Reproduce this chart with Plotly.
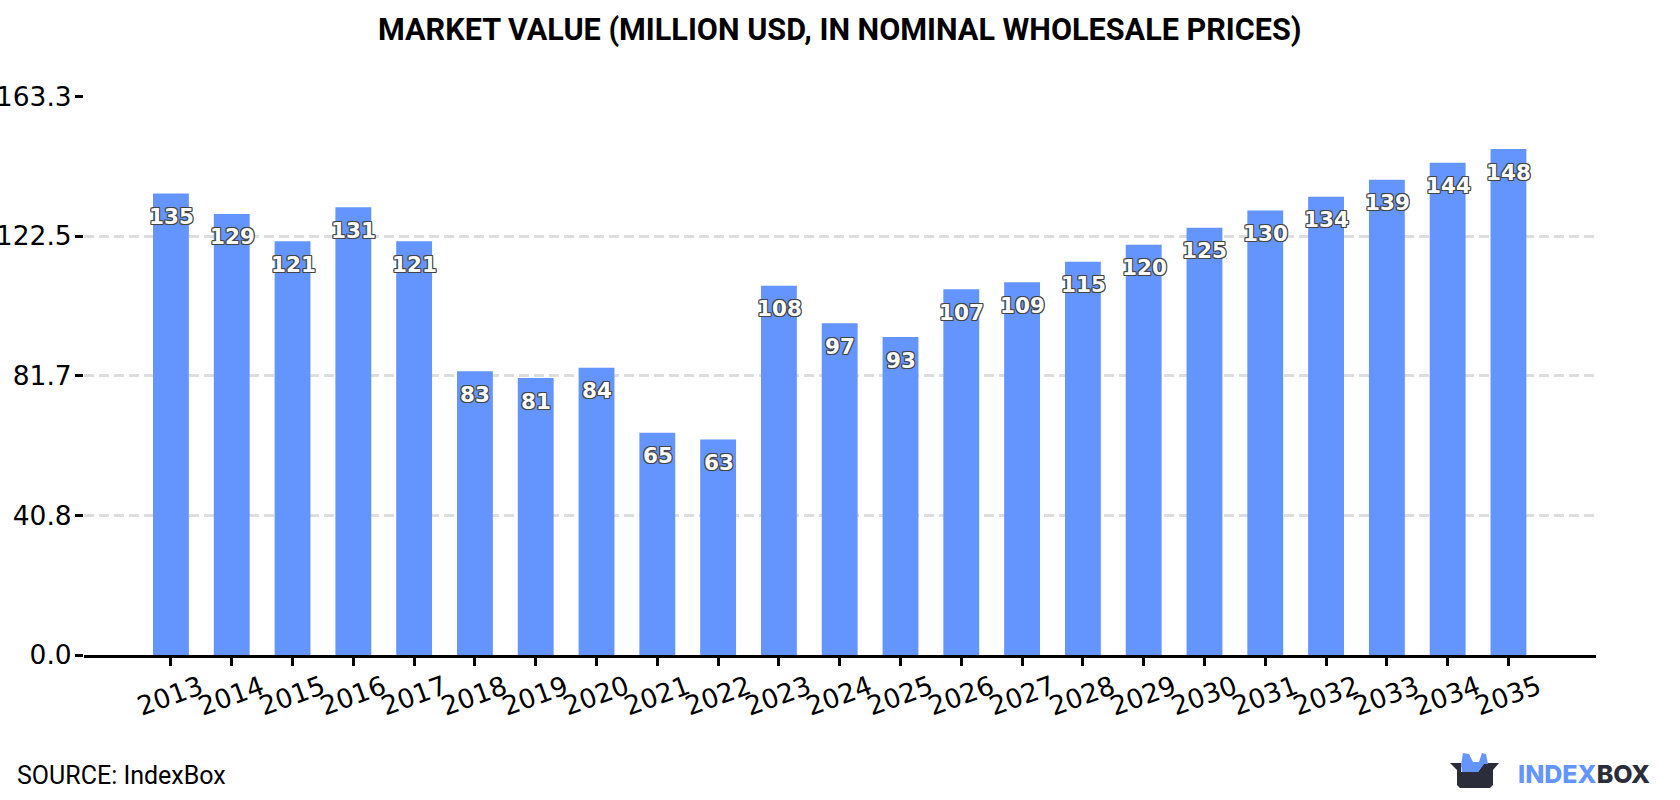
import plotly.graph_objects as go

WIDTH, HEIGHT = 1680, 800

years = list(range(2013, 2036))
values = [135, 129, 121, 131, 121, 83, 81, 84, 65, 63, 108, 97, 93, 107, 109, 115,
          120, 125, 130, 134, 139, 144, 148]
y_ticks = [0.0, 40.8, 81.7, 122.5, 163.3]
y_tick_labels = ["0.0", "40.8", "81.7", "122.5", "163.3"]

TITLE = "MARKET VALUE (MILLION USD, IN NOMINAL WHOLESALE PRICES)"
SOURCE = "SOURCE: IndexBox"
BAR_BLUE = "#6495ff"
LOGO_DARK = "#2b2d3a"
OUTLINE = ",".join(
    f"{dx}px {dy}px 0.4px #444" for dx, dy in
    [(-1, -1), (1, -1), (-1, 1), (1, 1), (0, 1), (0, -1), (1, 0), (-1, 0)]
)


def px(x):
    return x / WIDTH


def py(y):
    return 1 - y / HEIGHT


def logo_path(points):
    coords = [f"{px(x):.5f},{py(y):.5f}" for x, y in points]
    return "M" + " L".join(coords) + " Z"


fig = go.Figure(
    go.Bar(x=years, y=values, width=0.59, marker_color=BAR_BLUE, marker_line_width=0,
           hoverinfo="x+y")
)

annotations = []
for year, value in zip(years, values):
    annotations.append(dict(
        x=year, y=value, text=str(value), showarrow=False, xshift=0.5, yshift=-23,
        font=dict(family="DejaVu Sans", size=21.5, color="white", weight="bold", shadow=OUTLINE),
    ))
    annotations.append(dict(
        x=year, y=0, text=str(year), showarrow=False, textangle=-20, yshift=-40, xshift=-1,
        font=dict(family="DejaVu Sans", size=26.5, color="black"),
    ))

annotations += [
    dict(xref="paper", yref="paper", x=px(840), y=py(30), yanchor="middle", text=TITLE,
         showarrow=False, font=dict(family="Roboto", size=30.6, color="black", weight="bold")),
    dict(xref="paper", yref="paper", x=px(15), y=py(775), xanchor="left", yanchor="middle",
         text=SOURCE, showarrow=False, font=dict(family="Roboto", size=25, color="black")),
    dict(xref="paper", yref="paper", x=px(1516), y=py(774), xanchor="left", yanchor="middle",
         showarrow=False,
         text=f'<span style="color:{BAR_BLUE}">INDEX</span><span style="color:{LOGO_DARK}">BOX</span>',
         font=dict(family="Inter", size=25, weight=800)),
]

logo_crown = [(1461, 765), (1463, 753), (1469, 754), (1473, 762), (1479, 762), (1482, 753),
              (1486, 754), (1488, 764), (1484, 764), (1478, 772), (1462, 772)]
logo_box = [(1450, 763), (1461, 763), (1461, 772), (1478, 772), (1484, 763), (1499, 763),
            (1493, 770), (1493, 785), (1490, 788), (1460, 788), (1457, 785), (1457, 770)]

shapes = [
    dict(type="path", xref="paper", yref="paper", path=logo_path(logo_box),
         fillcolor=LOGO_DARK, line_width=0),
    dict(type="path", xref="paper", yref="paper", path=logo_path(logo_crown),
         fillcolor=BAR_BLUE, line_width=0),
]

fig.update_layout(
    width=WIDTH, height=HEIGHT,
    margin=dict(l=0, r=0, t=0, b=0, autoexpand=False),
    autosize=False,
    paper_bgcolor="white", plot_bgcolor="white",
    showlegend=False,
    xaxis=dict(
        domain=[px(84), px(1596)],
        range=[2011.57, 2036.44],
        tickvals=years, ticktext=[""] * len(years),
        ticks="outside", ticklen=8, tickwidth=2.5, tickcolor="black",
        showline=True, linecolor="black", linewidth=2.5,
        showgrid=False, zeroline=False,
    ),
    yaxis=dict(
        domain=[py(655), py(96.7)],
        range=[0, 163.3],
        tickvals=y_ticks, ticktext=y_tick_labels,
        ticks="outside", ticklen=8, tickwidth=2.5, tickcolor="black",
        ticklabelstandoff=-2,
        tickfont=dict(family="DejaVu Sans", size=26.5, color="black"),
        showgrid=True, gridcolor="#dedede", gridwidth=2.5, griddash="10px,5px",
        showline=False, zeroline=False,
    ),
    annotations=annotations,
    shapes=shapes,
)

fig.write_html("out.html")
